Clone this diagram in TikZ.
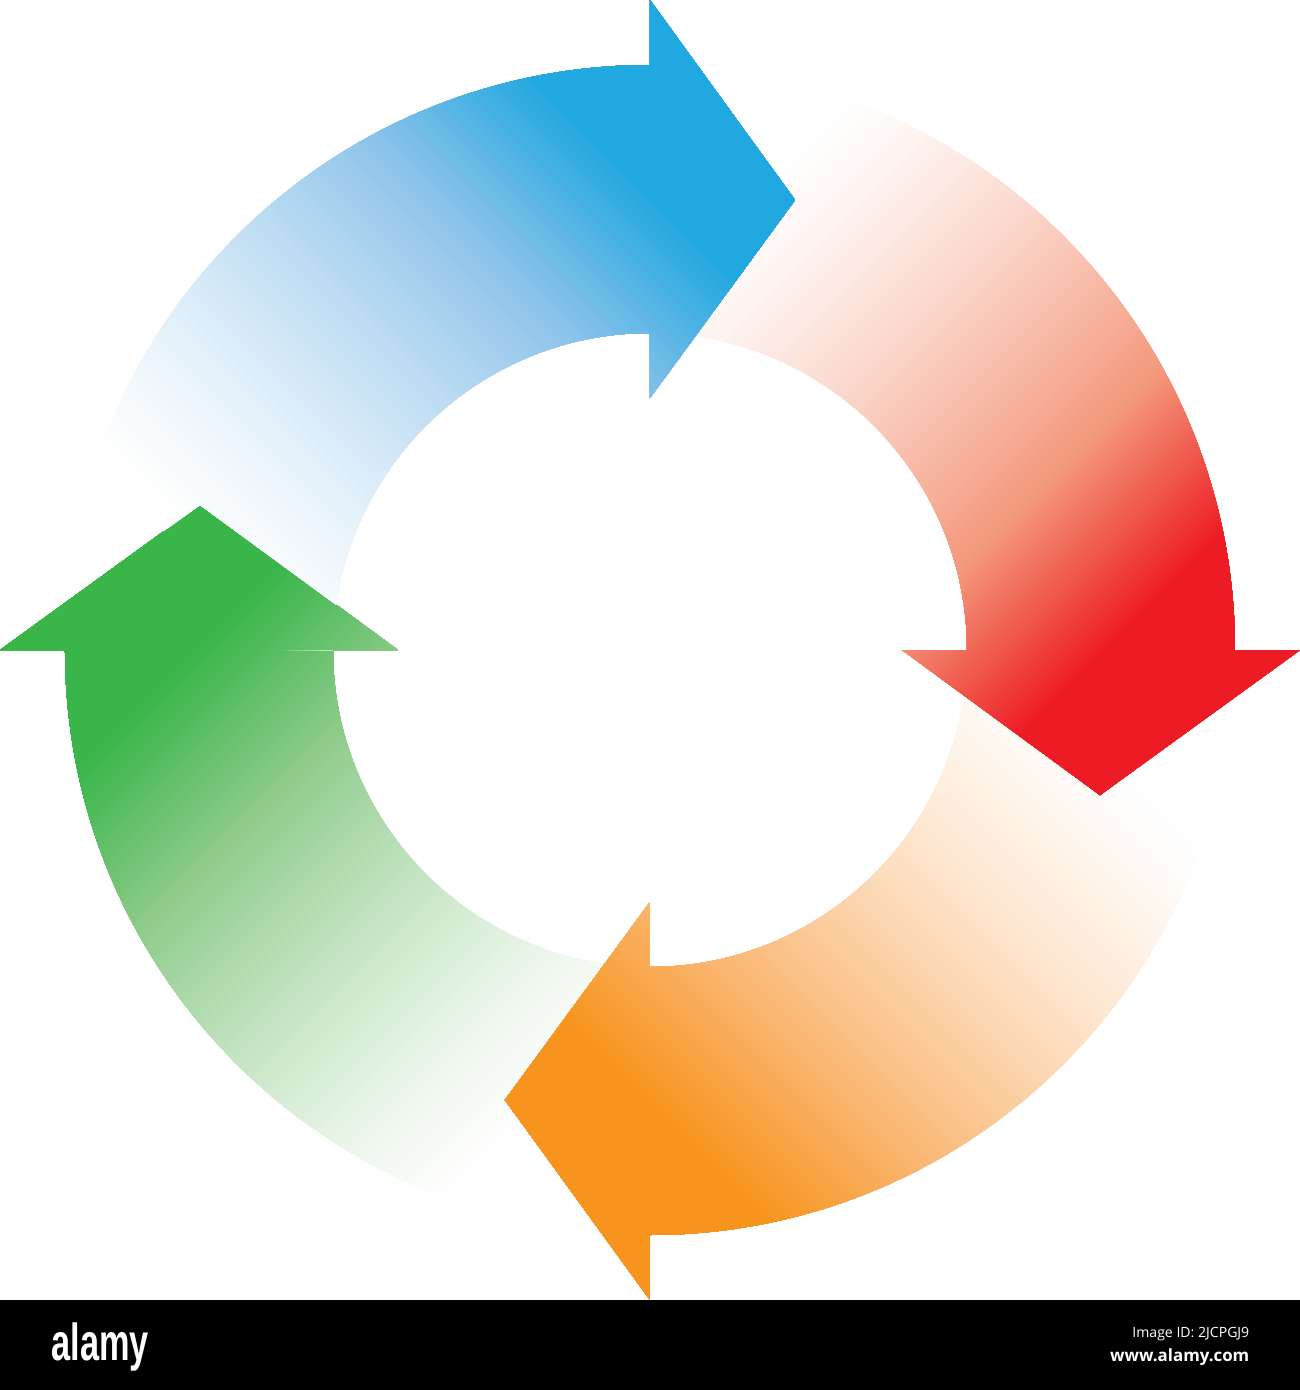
\documentclass[tikz,border=0pt]{standalone}
\usepackage{fontspec}
\setmainfont{Open Sans}
\newfontfamily\logofont{Liberation Sans}
\definecolor{cblue}{HTML}{22A8E0}
\definecolor{mblue}{HTML}{8DC3EA}
\definecolor{cred}{HTML}{ED1C24}
\definecolor{mred}{HTML}{F4977A}
\definecolor{corange}{HTML}{F7941D}
\definecolor{morange}{HTML}{FAB875}
\definecolor{cgreen}{HTML}{39B54A}
\definecolor{mgreen}{HTML}{8DCB89}
% gradient along the 45 degree direction (tail -> head), drawn as stacked half-planes
\newcommand\gradstrips[2]{%
  \begin{scope}[rotate=45]
    \foreach \s in {-260,-255,...,160}{%
      \pgfmathtruncatemacro\gf{round(100*((\s+265)/428)^1.4)}%
      \fill[#1!\gf!white] (\s,-700) rectangle (700,700);
    }
    \foreach \s in {165,170,...,320}{%
      \pgfmathtruncatemacro\gf{round(100*(\s-163)/157)}%
      \fill[#2!\gf!#1] (\s,-700) rectangle (700,700);
    }
  \end{scope}}
% whole arrow (body + head) as one clip
\newcommand\cliparrow{\clip (-585,0) arc[start angle=180,end angle=90,radius=585] -- (0,650) -- (145,450) -- (0,252) -- (0,317) arc[start angle=90,end angle=180,radius=317] -- cycle;}
% everything except the green head (seen from the blue arrow's frame)
\newcommand\clipnotgreenhead{\begin{scope}[even odd rule]\clip (-700,-700) rectangle (700,700) (-650,0) -- (-450,145) -- (-252,0) -- cycle;}
\tikzset{
  bartext/.style={text=white, inner sep=0pt},
}
\begin{document}
\begin{tikzpicture}[x=0.01cm,y=0.01cm]
\useasboundingbox (-650,-740) rectangle (650,650);
% arrows: green, orange, red, blue (each head lies over the tail of the next)
\foreach \k/\m/\c in {3/mgreen/cgreen,2/morange/corange,1/mred/cred}{
  \begin{scope}[rotate=-90*\k]
    \begin{scope}
      \cliparrow
      \gradstrips{\m}{\c}
    \end{scope}
  \end{scope}
}
\begin{scope}
  \clipnotgreenhead
    \cliparrow
    \gradstrips{mblue}{cblue}
  \end{scope}
\end{scope}
% bottom banner
\fill[black] (-650,-740) rectangle (650,-650);
\node[bartext, anchor=base west, font=\logofont\bfseries\fontsize{14.8}{16}\selectfont] (logo) at (-599,-710) {\scalebox{0.66}[1]{alamy}};
\node[bartext, anchor=base east, font=\fontsize{4.0}{5}\selectfont] (imgid) at (600,-687) {Image ID: 2JCPGJ9};
\node[bartext, anchor=base east, font=\bfseries\fontsize{4.8}{6}\selectfont] (web) at (600,-711) {www.alamy.com};
\end{tikzpicture}
\end{document}
